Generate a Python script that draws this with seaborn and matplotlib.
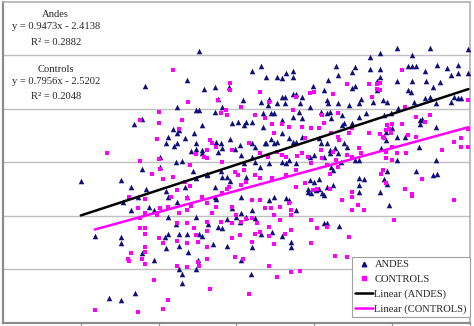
import matplotlib
matplotlib.use("Agg")
import matplotlib.pyplot as plt
from matplotlib.lines import Line2D
import seaborn as sns
import numpy as np
import pandas as pd

# ---------------- data ----------------
andes_x = [
    2.26, 2.18, 2.29, 2.36, 2.45, 2.38, 2.60, 2.66, 2.69, 2.76, 2.79, 2.82, 2.86, 2.86, 2.54, 2.71, 2.79, 2.81, 2.86, 2.88,
    2.92, 2.99, 3.06, 3.09, 3.14, 3.15, 3.24, 3.26, 3.24, 3.26, 3.30, 3.36, 3.36, 3.40, 3.40, 3.44, 3.08, 1.91,
    3.53, 3.74, 3.63, 3.60, 3.63, 3.65, 3.79, 3.85, 3.92, 3.92, 3.88, 3.53, 3.63, 3.72, 3.76, 3.74, 3.60, 3.62, 3.71, 3.64,
    3.54, 3.88, 3.90, 3.92, 3.94, 3.99, 3.99, 3.42, 3.42, 3.42, 3.68, 3.68, 3.78, 3.50, 3.46, 3.53, 3.58, 3.46, 3.43, 3.53,
    3.78, 3.47, 3.65, 3.76, 3.79, 3.48, 3.42, 3.81, 3.71, 3.45, 3.49, 3.69, 3.78, 3.47, 3.67, 3.45, 3.47,
    1.50, 1.76, 1.84, 1.89, 1.89, 1.82, 1.92, 2.01, 2.01, 2.05, 2.06, 2.09, 2.12, 2.13, 2.17, 2.10, 2.12, 2.12, 2.23, 2.24,
    2.26, 2.28, 2.28, 2.28, 2.24, 2.24, 2.21, 2.15, 2.11, 2.22, 2.24, 2.31, 2.31, 2.17, 2.18, 2.06, 2.05, 1.87, 2.38, 2.40,
    2.41, 2.37, 2.41, 2.36, 2.47, 2.51, 2.55, 2.56, 2.46, 2.49, 2.52, 2.53, 2.55, 2.40, 2.41, 2.44, 2.46, 2.56, 2.36, 2.36,
    2.37, 2.53,
    2.66, 2.70, 2.76, 2.81, 2.91, 2.97, 3.09, 3.15, 3.22, 3.29, 3.38, 2.60, 2.67, 2.72, 2.74, 2.79, 2.86, 2.90, 2.92, 3.04,
    3.08, 3.10, 3.11, 3.18, 3.24, 3.19, 3.18, 3.29, 3.33, 2.67, 2.60, 2.62, 2.68, 2.69, 2.72, 2.74, 2.76, 2.79, 2.84, 2.86,
    2.88, 2.92, 3.03, 3.04, 3.08, 3.10, 3.13, 3.15, 3.19, 3.21, 3.26, 3.29, 2.60, 2.62, 2.65, 2.71, 2.79, 2.82, 2.84, 2.88,
    2.97, 3.00, 3.06, 3.10, 3.11, 3.12, 2.97, 3.00, 3.03, 3.08, 3.12, 3.17, 3.29, 3.32, 3.29, 3.29, 3.05, 3.06, 2.96, 2.96,
    2.98, 3.03, 3.01, 2.71, 2.74, 2.82, 2.84, 2.88, 2.60, 2.62, 3.06, 3.08, 3.16, 2.66, 2.73, 2.79, 2.85, 2.85, 2.60, 2.59,
    1.59, 1.76, 1.76, 1.82, 1.94, 1.97, 1.89, 1.97, 2.06, 2.06, 2.05, 2.04, 2.11, 2.13, 2.13, 2.18, 2.19, 2.24, 2.26, 2.13,
    2.15, 2.15, 2.24, 2.25, 2.35, 2.41, 2.44, 2.53, 2.47, 2.53, 2.56, 2.50, 1.68, 1.76, 1.85, 1.77, 2.12, 2.32, 2.38, 2.52,
    2.28, 2.44,
]
andes_y = [
    2.07, 1.53, 1.36, 1.40, 1.40, 1.18, 1.70, 1.79, 1.60, 1.60, 1.57, 1.66, 1.70, 1.59, 1.16, 1.18, 1.21, 1.21, 1.27, 1.27,
    1.21, 1.42, 1.34, 1.53, 1.79, 1.62, 1.68, 1.77, 1.38, 1.42, 1.18, 1.96, 1.74, 1.51, 1.34, 1.16, 1.16, 1.42,
    2.13, 2.13, 2.00, 1.79, 1.79, 1.79, 1.81, 1.75, 1.81, 1.66, 1.62, 1.51, 1.51, 1.51, 1.40, 1.21, 1.34, 1.31, 1.19, 1.12,
    1.01, 1.12, 1.21, 1.19, 1.19, 2.11, 1.66, 2.03, 1.74, 1.60, 0.78, 0.71, 0.65, 0.63, 0.56, 0.47, 0.47, 0.41, 0.26, 0.04,
    0.04, -0.17, -0.17, -0.24, -0.21, -0.80, -0.56, 1.49, 1.70, 0.88, 0.91, 0.80, 1.10, 1.12, 0.28, -0.32, -0.41,
    -0.35, -0.34, 0.71, 0.80, -0.13, -0.47, -0.50, 0.09, -0.09, 0.35, 0.47, 0.62, 0.54, 0.60, 0.45, 0.30, 0.35, 1.04, 0.54, 0.97,
    0.97, 0.69, 0.22, 0.17, 0.35, 0.24, 0.21, 0.02, 0.00, -0.17, -0.30, -0.24, -0.21, -0.47, -0.65, -0.65, -0.54, -0.65, 0.19, 0.35,
    0.26, 0.37, 1.03, 0.93, 0.73, 0.76, 0.69, 0.76, 0.43, 0.24, 0.32, 0.13, -0.02, -0.17, -0.28, -0.28, -0.35, -0.28, -0.47, -0.65,
    -0.69, -0.65,
    1.12, 1.06, 1.10, 1.10, 1.10, 1.04, 1.10, 1.10, 1.06, 1.10, 1.12, 0.75, 0.91, 0.91, 0.91, 0.78, 0.84, 0.93, 0.82, 0.93,
    0.91, 0.93, 0.82, 0.88, 0.73, 0.73, 0.69, 0.84, 0.91, 0.65, 0.35, 0.28, 0.35, 0.35, 0.43, 0.35, 0.37, 0.54, 0.45, 0.37,
    0.37, 0.47, 0.45, 0.35, 0.35, 0.22, 0.26, 0.17, 0.35, 0.28, 0.04, 0.04, 0.09, 0.00, -0.09, -0.02, 0.00, -0.02, 0.04, -0.02,
    0.09, 0.13, 0.09, 0.17, -0.09, -0.15, -0.34, -0.37, -0.32, -0.47, -0.43, 0.00, -0.30, -0.32, -0.43, -0.56, -0.58, -0.62, -0.49, -0.56,
    -0.58, -0.49, -0.52, -0.71, -0.65, -0.67, -0.71, -0.90, -0.90, -1.04, -1.14, -1.14, -1.19, -1.33, -1.31, -1.38, -1.49, -1.59, -1.59, -2.09,
    -1.38, -1.40, -1.51, -0.90, -0.84, -0.90, -1.70, -1.83, -1.03, -1.33, -1.60, -1.40, -1.16, -1.33, -1.57, -1.34, -1.68, -1.03, -1.33, -2.00,
    -2.09, -2.26, -2.00, -1.83, -1.53, -1.23, -1.57, -1.83, -0.86, -0.95, -1.03, -1.03, -2.54, -2.57, -2.44, -0.75, -0.75, -1.16, -1.21, -1.12,
    -1.38, -1.06,
]

controls_x = [
    2.09, 2.46, 2.46, 2.65, 2.71, 2.88, 2.97, 3.00, 3.12, 3.21, 3.35, 3.40, 3.40, 3.37,
    3.56, 3.42, 3.42, 3.58, 3.65, 3.74, 3.71, 3.56, 3.50, 3.47, 3.46, 3.48, 3.49, 3.42, 3.44, 3.65, 3.50, 3.53, 3.46, 3.82,
    3.90, 3.94, 3.94, 3.99, 3.99, 3.99, 3.50, 3.44, 3.43, 3.46, 3.69, 3.58, 3.63, 3.63, 3.90, 3.51, 3.60, 3.59, 3.46, 3.45,
    1.67, 1.88, 2.00, 2.00, 1.99, 1.88, 1.96, 2.00, 2.01, 1.81, 1.91, 2.09, 2.12, 2.17, 2.20, 2.08, 2.18, 2.03, 2.13, 2.19,
    2.15, 2.20, 2.24, 2.31, 2.34, 2.37, 2.33, 2.40, 2.43, 2.29, 2.31, 2.28, 2.41, 2.47, 2.49, 2.51, 2.55, 2.56, 2.53, 2.45,
    2.41, 2.44, 2.53, 2.44, 2.38,
    2.62, 2.68, 2.73, 2.79, 2.74, 2.86, 2.84, 2.92, 2.94, 2.98, 3.03, 3.05, 3.06, 3.11, 3.15, 3.15, 3.16, 3.22, 3.24, 3.35,
    2.58, 2.65, 2.70, 2.76, 2.79, 2.82, 2.89, 2.92, 2.96, 2.98, 3.04, 3.05, 3.12, 3.14, 3.15, 3.08, 3.10, 3.21, 3.24, 3.29,
    3.30, 2.62, 2.65, 2.73, 2.82, 2.88, 2.88, 2.94, 2.99, 3.02, 3.10, 3.18, 3.24, 3.24, 3.28, 3.24, 3.32, 2.60, 2.65, 2.68,
    2.72, 2.78, 2.84, 2.85, 2.85, 2.60, 2.63, 2.65, 2.71, 2.74, 2.78, 2.98, 3.02, 3.08, 3.22, 2.62, 2.60, 2.71, 2.74, 2.81,
    2.85, 2.98,
    1.59, 1.87, 2.03, 2.06, 1.97, 1.82, 1.80, 1.81, 1.89, 1.91, 1.91, 1.91, 1.88, 1.91, 1.91, 2.00, 2.03, 2.12, 2.18, 2.25,
    2.31, 2.31, 2.12, 2.18, 2.26, 2.25, 2.33, 2.58, 2.49, 2.52, 2.54, 2.56, 1.87, 1.91, 1.88, 2.01, 1.99, 2.21, 2.18, 2.13,
    2.06, 2.12, 2.18, 2.23, 2.31, 2.34, 2.47, 2.50, 2.47, 2.53, 2.37, 2.31, 2.24, 2.31, 2.40, 2.47,
    2.71, 2.76, 2.85, 2.91, 3.13, 3.21,
]
controls_y = [
    1.72, 1.47, 1.34, 1.32, 1.12, 1.21, 1.29, 1.31, 1.27, 1.46, 1.46, 1.46, 1.36, 1.21,
    1.72, 1.47, 1.34, 1.04, 0.84, 0.88, 0.75, 0.71, 0.71, 0.69, 0.60, 0.62, 0.54, 0.52, 0.47, 0.47, 0.28, 0.17, 0.19, 0.22,
    0.37, 0.45, 0.28, 0.62, 0.28, 1.16, 0.04, -0.15, -0.21, -0.39, -0.32, -0.50, -0.60, -0.63, -0.71, -1.08, 0.50, 0.17, 0.07, 0.45,
    0.17, 0.78, 0.93, 0.73, 0.43, 0.02, -0.21, 0.06, -0.13, -0.65, -0.69, -0.28, -0.52, -0.37, -0.45, -0.65, -0.67, -0.32, 0.62, 1.12,
    0.78, -0.06, 0.15, 0.22, 0.35, 0.28, 0.41, 0.91, 0.97, 0.09, 0.07, -0.65, 0.00, 0.22, -0.19, -0.24, -0.15, -0.37, -0.43, -0.47,
    -0.58, -0.49, 1.03, 0.88, 1.16,
    0.88, 0.82, 0.71, 0.71, 0.54, 0.97, 0.65, 0.65, 0.45, 0.63, 0.63, 0.88, 0.73, 0.54, 0.91, 0.47, 0.41, 0.54, 0.63, 0.54,
    0.35, 0.17, 0.09, 0.19, 0.13, 0.09, 0.11, 0.17, 0.09, -0.02, 0.22, 0.07, 0.19, 0.04, -0.09, -0.06, -0.21, 0.13, 0.09, 0.26,
    0.17, -0.24, -0.30, -0.30, -0.24, -0.15, -0.47, -0.39, -0.52, -0.50, -0.50, -0.71, -0.56, -0.65, -0.80, -0.90, -0.90, -0.71, -0.71, -0.86,
    -0.86, -0.84, -0.76, -0.90, -0.99, -1.04, -1.14, -1.31, -1.21, -0.99, -1.08, -1.08, -1.23, -1.21, -1.40, -1.33, -1.49, -1.38, -1.53, -1.33,
    -1.27, -1.51,
    -2.76, -2.80, -2.74, -2.57, -2.20, -1.70, -1.81, -1.85, -1.81, -1.59, -1.68, -1.90, -1.23, -1.23, -1.33, -1.42, -1.51, -1.47, -1.51, -1.49,
    -1.59, -1.81, -1.94, -1.96, -1.94, -1.87, -2.37, -2.46, -1.77, -1.36, -1.81, -1.06, -0.86, -0.95, -1.04, -0.86, -0.99, -0.82, -0.90, -0.95,
    -0.84, -1.14, -1.14, -1.23, -1.12, -0.95, -0.84, -0.99, -1.14, -1.12, -0.84, -0.76, -1.36, -1.29, -1.12, -1.42,
    -1.94, -2.15, -2.05, -2.03, -1.75, -1.77,
]

series_names = ["ANDES", "CONTROLS"]
trend_names = ["Linear (ANDES)", "Linear (CONTROLS)"]
slopes = [0.9473, 0.7956]
intercepts = [-2.4138, -2.5202]
r_squared = [0.2882, 0.2048]
eq_titles = ["Andes", "Controls"]
x_ticks = [1.5, 2.0, 2.5, 3.0, 3.5, 4.0]
y_grid = [-2, -1, 0, 1, 2]

# ---------------- figure ----------------
sns.set_style("white")
plt.rcParams["font.family"] = ["Liberation Serif", "DejaVu Serif"]

W, H = 474, 326
fig = plt.figure(figsize=(W / 100, H / 100), dpi=100)
ax = fig.add_axes([3 / W, 3 / H, 467 / W, 321.5 / H])

navy = "#10107a"
magenta = "#FF00FF"

df_a = pd.DataFrame({"x": andes_x, "y": andes_y})
df_c = pd.DataFrame({"x": controls_x, "y": controls_y})

sns.scatterplot(data=df_a, x="x", y="y", ax=ax, marker="^", color=navy,
                s=16, linewidth=0, zorder=3)
sns.scatterplot(data=df_c, x="x", y="y", ax=ax, marker="s", color=magenta,
                s=12, linewidth=0, zorder=3)

# trend lines from the fitted equations, across each series' x range
colors_line = ["black", magenta]
for xs, m, b, col in zip([andes_x, controls_x], slopes, intercepts, colors_line):
    lx = np.array([min(xs), max(xs)])
    line_df = pd.DataFrame({"x": lx, "y": m * lx + b})
    sns.lineplot(data=line_df, x="x", y="y", ax=ax, color=col, linewidth=1.8,
                 zorder=4, estimator=None, sort=False)

ax.set_xlim(1.0, 4.0)
ax.set_ylim(-3.0, 3.0)
ax.set_xticks(x_ticks)
ax.set_xticklabels([])
ax.set_yticks(y_grid)
ax.set_yticklabels([])
ax.set_xlabel("")
ax.set_ylabel("")
ax.grid(axis="y", color="#c0c0c0", linewidth=1.0)
ax.grid(axis="x", visible=False)
ax.set_axisbelow(True)
ax.tick_params(axis="x", direction="out", length=3, width=0.8, color="#909090", bottom=True)
ax.tick_params(axis="y", length=0)

for side in ["left", "bottom"]:
    ax.spines[side].set_color("#8c8c8c")
    ax.spines[side].set_linewidth(1.6)
for side in ["top", "right"]:
    ax.spines[side].set_color("#b0b0b0")
    ax.spines[side].set_linewidth(1.2)

# equation annotations
fs = 7.6
eq_y = [(0.961, 0.921, 0.874), (0.790, 0.750, 0.703)]
for title, m, b, r2, ys in zip(eq_titles, slopes, intercepts, r_squared, eq_y):
    ax.text(0.113, ys[0], title, transform=ax.transAxes, ha="center", va="center", fontsize=fs)
    ax.text(0.113, ys[1], f"y = {m:.4f}x - {abs(b):.4f}", transform=ax.transAxes,
            ha="center", va="center", fontsize=fs)
    ax.text(0.113, ys[2], f"R\u00b2 = {r2:.4f}", transform=ax.transAxes,
            ha="center", va="center", fontsize=fs)

handles = [
    Line2D([], [], linestyle="none", marker="^", color=navy, markersize=3.3),
    Line2D([], [], linestyle="none", marker="s", color=magenta, markersize=3.0),
    Line2D([], [], color="black", linewidth=1.8),
    Line2D([], [], color=magenta, linewidth=1.8),
]
labels = series_names + trend_names
leg = ax.legend(handles, labels, loc="lower right", bbox_to_anchor=(1.0, 6 / 321.5),
                borderaxespad=0, fontsize=fs, frameon=True, fancybox=False,
                edgecolor="#a0a0a0", framealpha=1, handlelength=1.7,
                handletextpad=0.15, labelspacing=0.5, borderpad=0.3)
leg.get_frame().set_linewidth(0.8)

fig.savefig("out.png", dpi=100)
